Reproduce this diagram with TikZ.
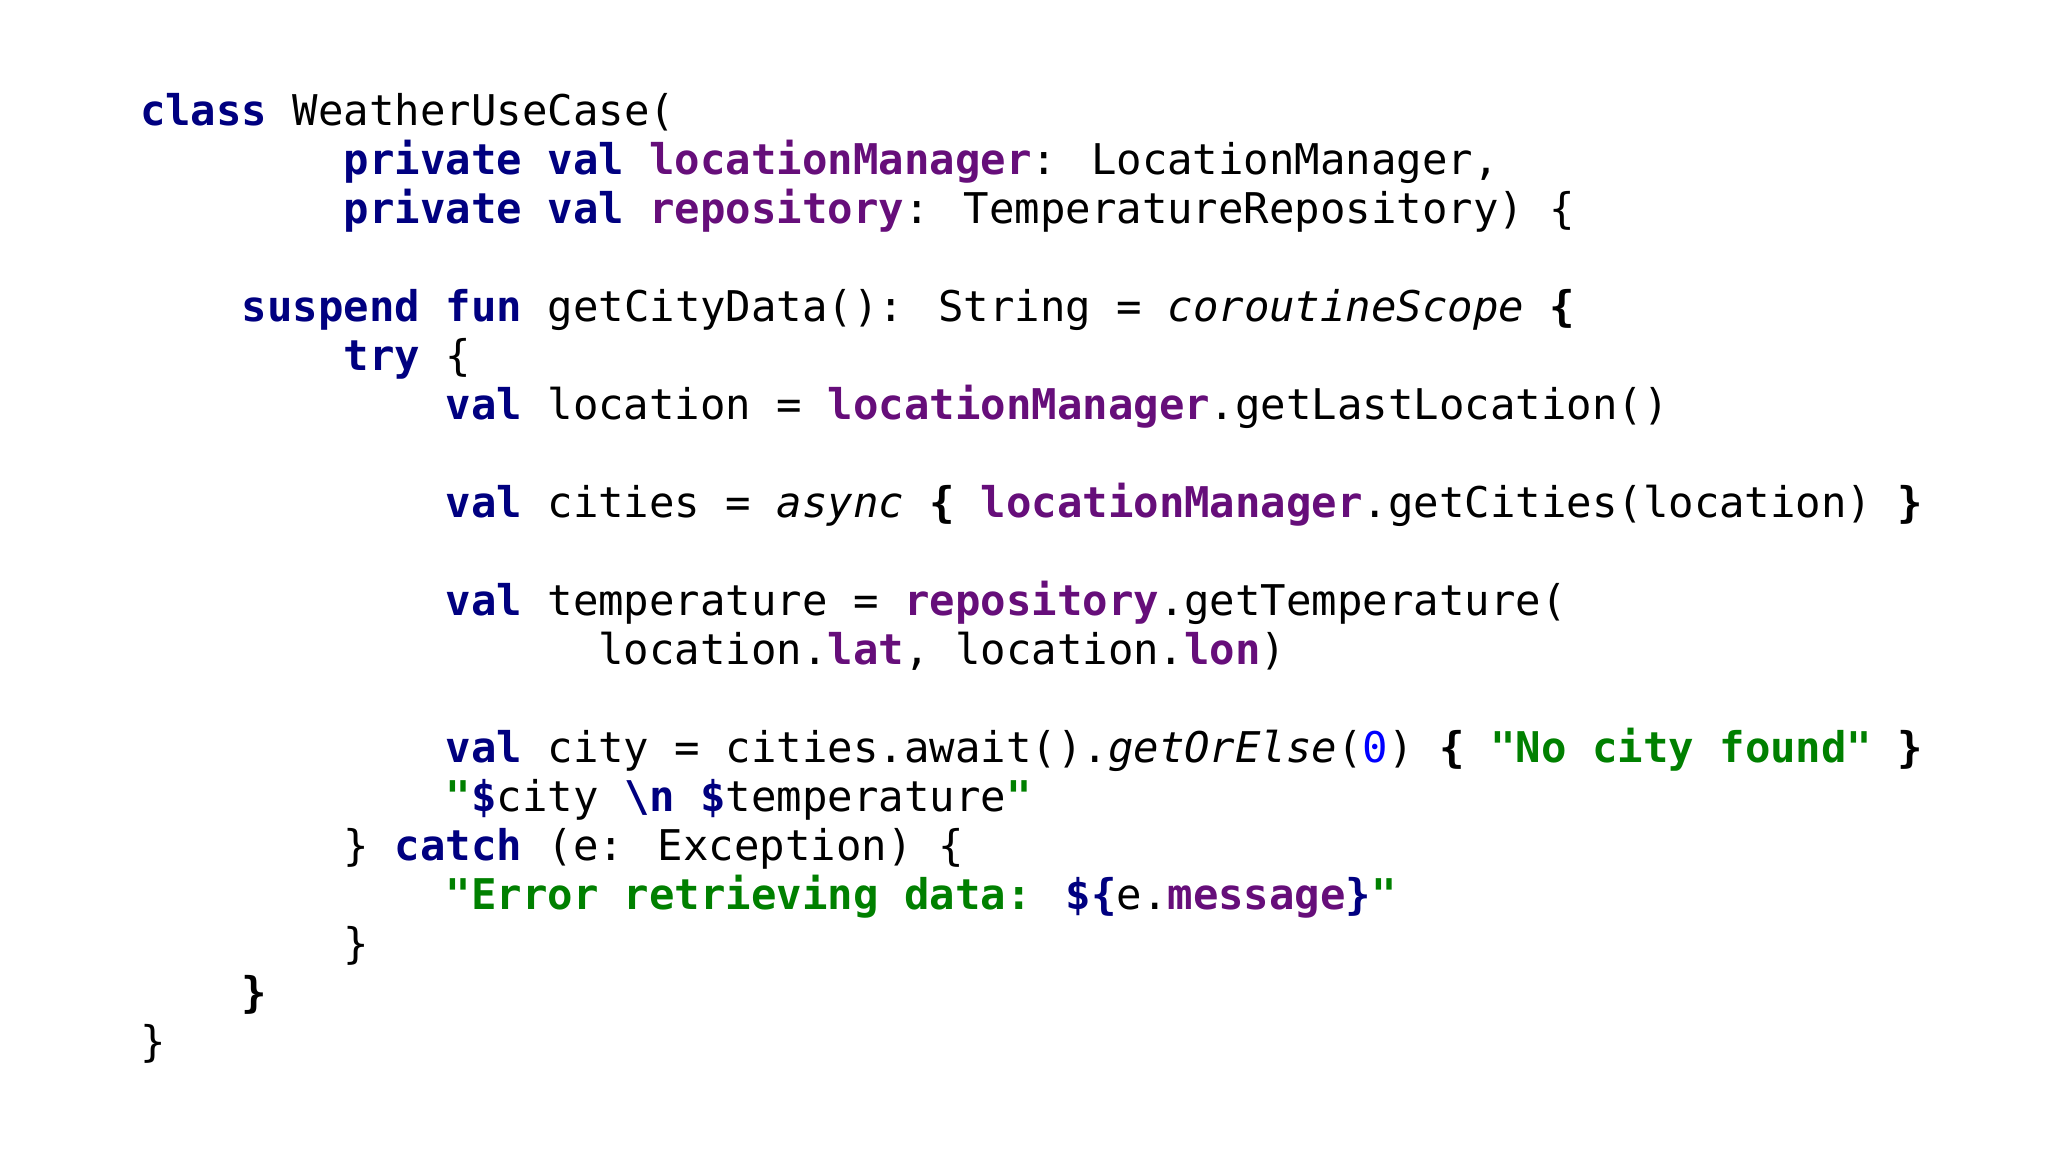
\documentclass[tikz,border=0pt]{standalone}
\usepackage{fontspec}
\newfontfamily\code{DejaVu Sans Mono}
\definecolor{kw}{RGB}{0,0,128}
\definecolor{fld}{RGB}{102,14,122}
\definecolor{str}{RGB}{0,128,0}
\definecolor{num}{RGB}{0,0,255}
\newcommand{\K}[1]{\textcolor{kw}{\bfseries #1}}
\newcommand{\F}[1]{\textcolor{fld}{\bfseries #1}}
\newcommand{\St}[1]{\textcolor{str}{\bfseries #1}}
\newcommand{\I}[1]{\textit{#1}}
\newcommand{\B}[1]{\textbf{#1}}
\tikzset{ln/.style={anchor=base west,inner sep=0pt,font=\code\fontsize{32.4}{37.5}\selectfont}}
\begin{document}
\begin{tikzpicture}[x=1pt,y=-1pt]
\fill[white] (0,0) rectangle (1568,882);
\def\cw{19.5}
\newcommand{\Ln}[4]{\node[ln] (#1) at (107+#2*\cw,96+#3*37.5) {#4};}
\Ln{l0}{0}{0}{\K{class} WeatherUseCase(}
\Ln{l1}{8}{1}{\K{private} \K{val} \F{locationManager}: LocationManager,}
\Ln{l2}{8}{2}{\K{private} \K{val} \F{repository}: TemperatureRepository) \{}
\Ln{l3}{4}{4}{\K{suspend} \K{fun} getCityData(): String = \I{coroutineScope} \B{\{}}
\Ln{l4}{8}{5}{\K{try} \{}
\Ln{l5}{12}{6}{\K{val} location = \F{locationManager}.getLastLocation()}
\Ln{l6}{12}{8}{\K{val} cities = \I{async} \B{\{} \F{locationManager}.getCities(location) \B{\}}}
\Ln{l7}{12}{10}{\K{val} temperature = \F{repository}.getTemperature(}
\Ln{l8}{18}{11}{location.\F{lat}, location.\F{lon})}
\Ln{l9}{12}{13}{\K{val} city = cities.await().\I{getOrElse}(\textcolor{num}{0}) \B{\{} \St{"No city found"} \B{\}}}
\Ln{l10}{12}{14}{\St{"}\K{\$}city \K{\textbackslash n} \K{\$}temperature\St{"}}
\Ln{l11}{8}{15}{\} \K{catch} (e: Exception) \{}
\Ln{l12}{12}{16}{\St{"Error retrieving data: }\K{\$\{}e.\F{message}\K{\}}\St{"}}
\Ln{l13}{8}{17}{\}}
\Ln{l14}{4}{18}{\B{\}}}
\Ln{l15}{0}{19}{\}}
\end{tikzpicture}
\end{document}
